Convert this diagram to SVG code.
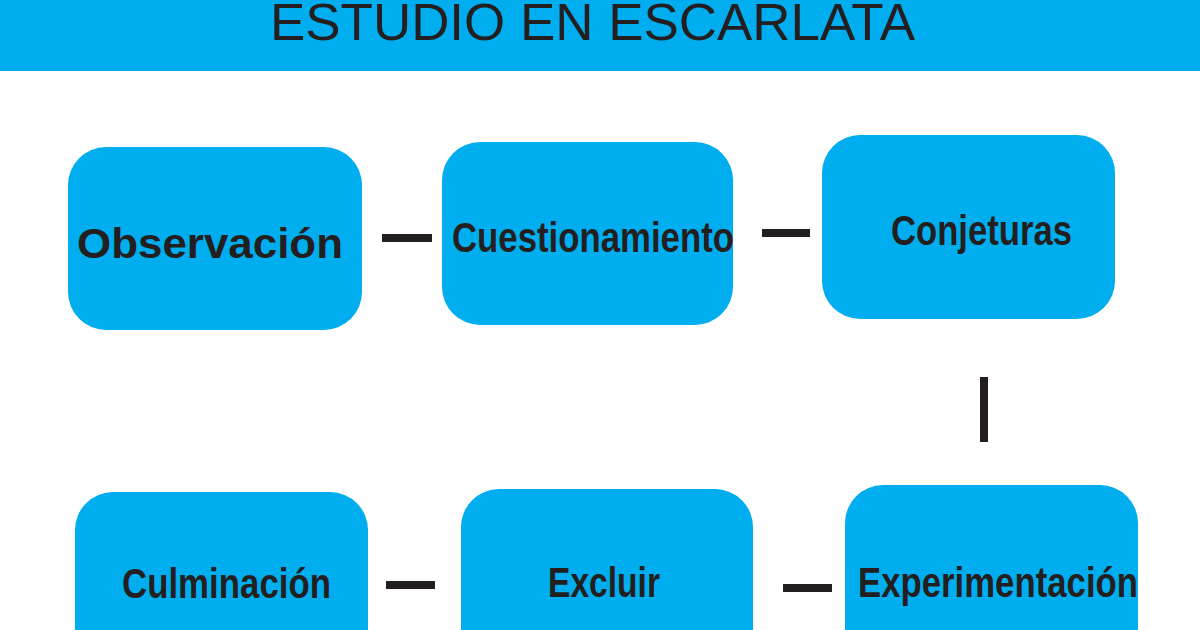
<svg xmlns="http://www.w3.org/2000/svg" width="1200" height="630" viewBox="0 0 1200 630">
<style>
.box{fill:#00AEEF}
.lbl{font-family:"Liberation Sans",Arial,sans-serif;font-weight:bold;fill:#231F20;font-size:42px}
.title{font-family:"Liberation Sans",Arial,sans-serif;fill:#231F20;font-size:52px}
.con{stroke:#231F20;stroke-width:8;fill:none}
</style>
<rect x="0" y="0" width="1200" height="630" fill="#FFFFFF"/>
<g id="banner">
<rect x="0" y="0" width="1200" height="71" fill="#00AEEF"/>
<text class="title" x="270" y="39.5" textLength="645" lengthAdjust="spacingAndGlyphs">ESTUDIO EN ESCARLATA</text>
</g>
<g id="connectors">
<line class="con" x1="382" y1="238" x2="432" y2="238"/>
<line class="con" x1="762" y1="233" x2="810" y2="233"/>
<line class="con" x1="984" y1="377" x2="984" y2="442"/>
<line class="con" x1="783" y1="588" x2="832" y2="588"/>
<line class="con" x1="386" y1="585" x2="435" y2="585"/>
</g>
<g id="observacion">
<rect class="box" x="68" y="147" width="294" height="183" rx="38"/>
<text class="lbl" x="77" y="258" font-size="44" textLength="266" lengthAdjust="spacingAndGlyphs">Observación</text>
</g>
<g id="cuestionamiento">
<rect class="box" x="442" y="142" width="291" height="183" rx="38"/>
<text class="lbl" x="452" y="252" textLength="282" lengthAdjust="spacingAndGlyphs">Cuestionamiento</text>
</g>
<g id="conjeturas">
<rect class="box" x="822" y="135" width="293" height="184" rx="38"/>
<text class="lbl" x="891" y="245" textLength="181" lengthAdjust="spacingAndGlyphs">Conjeturas</text>
</g>
<g id="experimentacion">
<rect class="box" x="845" y="485" width="293" height="190" rx="38"/>
<text class="lbl" x="858" y="597" textLength="280" lengthAdjust="spacingAndGlyphs">Experimentación</text>
</g>
<g id="excluir">
<rect class="box" x="461" y="489" width="292" height="190" rx="38"/>
<text class="lbl" x="548" y="597" textLength="112" lengthAdjust="spacingAndGlyphs">Excluir</text>
</g>
<g id="culminacion">
<rect class="box" x="75" y="492" width="293" height="190" rx="38"/>
<text class="lbl" x="122" y="598" textLength="209" lengthAdjust="spacingAndGlyphs">Culminación</text>
</g>
</svg>
